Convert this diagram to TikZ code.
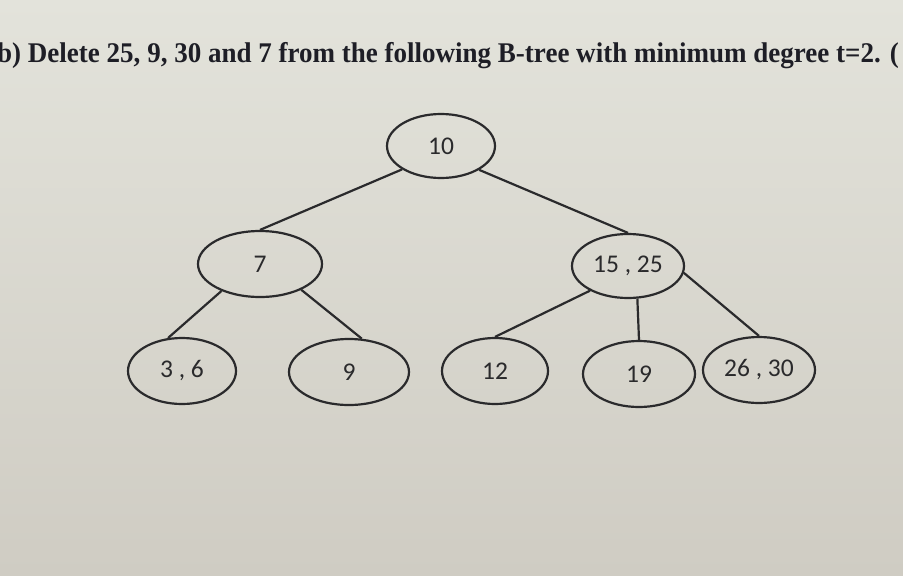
\documentclass[tikz,border=0pt]{standalone}
\usepackage{fontspec}
\setmainfont{Liberation Serif}
\newfontfamily\nodefont{Carlito}
\usetikzlibrary{shapes.geometric}
\definecolor{bgtop}{HTML}{E3E3DB}
\definecolor{bgbot}{HTML}{CFCCC3}
\definecolor{ink}{HTML}{2A2A2C}
\definecolor{titleink}{HTML}{1E1E26}
\tikzset{
  bnode/.style={ellipse, draw=ink, line width=2.2pt, inner sep=0pt,
    font=\nodefont\fontsize{25.5}{29}\selectfont, text=ink},
  link/.style={draw=ink, line width=2.2pt},
}
\begin{document}
\begin{tikzpicture}[x=1pt,y=-1pt]
\shade[top color=bgtop, bottom color=bgbot] (0,0) rectangle (903,576);
\useasboundingbox (0,0) rectangle (903,576);
\node[anchor=base west, inner sep=0pt, text=titleink,
  font=\bfseries\fontsize{28.5}{32}\selectfont] (title) at (-3,62)
  {\scalebox{0.948}[1]{b) Delete 25, 9, 30 and 7 from the following B-tree with minimum degree t=2. (}};
\node[bnode, minimum width=108pt, minimum height=64pt] (root) at (441,146) {10};
\node[bnode, minimum width=124pt, minimum height=66pt] (n7) at (260,264) {7};
\node[bnode, minimum width=112pt, minimum height=64pt] (n1525) at (628,266) {15 , 25};
\node[bnode, minimum width=108pt, minimum height=66pt] (n36) at (182,371) {3 , 6};
\node[bnode, minimum width=120pt, minimum height=66pt] (n9) at (349,372) {9};
\node[bnode, minimum width=106pt, minimum height=66pt] (n12) at (495,371) {12};
\node[bnode, minimum width=112pt, minimum height=66pt] (n19) at (639,374) {19};
\node[bnode, minimum width=112pt, minimum height=66pt] (n2630) at (759,370) {26 , 30};
\draw[link] (root.211) -- (n7.north);
\draw[link] (root.328) -- (n1525.north);
\draw[link] (n7.215) -- (n36.113);
\draw[link] (n7.328) -- (n9.69);
\draw[link] (n1525.213) -- (n12.north);
\draw[link] (n1525.286) -- (n19.north);
\draw[link] (n1525.353) -- (n2630.north);
\end{tikzpicture}
\end{document}
